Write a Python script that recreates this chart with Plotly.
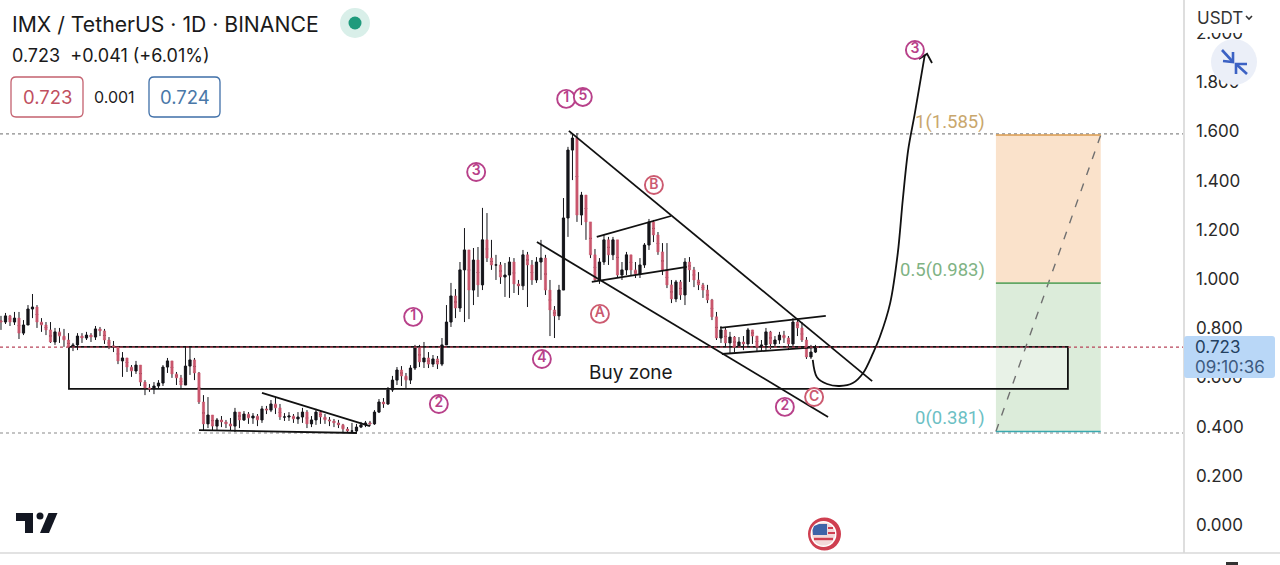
import numpy as np
import plotly.graph_objects as go

# Daglige candles lest av bildet (IMX/USDT), open = forrige close
closes = [
    .825, .850, .825, .841, .780, .813, .878, .886, .825, .813,
    .793, .744, .785, .768, .752, .724, .732, .768, .760, .772,
    .764, .797, .789, .752, .728, .724, .667, .679, .642, .626,
    .650, .581, .557, .553, .565, .577, .642, .667, .614, .598,
    .569, .646, .671, .618, .500, .411, .447, .402, .427, .419,
    .411, .402, .459, .427, .451, .435, .443, .427, .472, .467,
    .492, .476, .439, .439, .443, .431, .439, .459, .411, .427,
    .459, .439, .427, .423, .415, .407, .390, .382, .382, .398,
    .407, .415, .411, .459, .500, .492, .549, .589, .630, .606,
    .589, .638, .720, .663, .679, .654, .675, .654, .732, .825,
    .931, .882, 1.037, 1.118, .955, 1.077, .976, 1.159, 1.085, 1.057,
    1.057, 1.008, 1.016, 1.069, .980, .972, 1.098, 1.057, .996, 1.069,
    1.085, .955, .874, .850, .955, 1.248, 1.524, 1.573, 1.260, 1.341,
    1.232, 1.098, .996, 1.069, 1.159, 1.098, 1.159, 1.016, 1.037, 1.098,
    1.037, 1.020, 1.057, 1.138, 1.232, 1.179, 1.110, 1.037, .976, .919,
    .988, .935, 1.069, 1.037, .996, .976, .955, .915, .846, .760,
    .793, .740, .764, .724, .744, .736, .793, .768, .724, .732,
    .785, .736, .752, .772, .760, .736, .825, .801, .752, .683, .703, .723,
]
highs = [
    .850, .862, .854, .866, .866, .833, .894, .939, .894, .841,
    .825, .825, .801, .801, .797, .780, .740, .780, .780, .785,
    .780, .809, .805, .797, .764, .748, .724, .703, .679, .650,
    .667, .650, .589, .573, .581, .589, .650, .679, .667, .622,
    .610, .724, .724, .679, .622, .528, .520, .447, .435, .443,
    .427, .435, .476, .459, .463, .459, .455, .451, .484, .484,
    .508, .520, .492, .455, .459, .451, .459, .476, .467, .443,
    .472, .463, .451, .439, .431, .427, .411, .398, .415, .411,
    .419, .423, .423, .467, .512, .516, .561, .606, .642, .646,
    .618, .650, .732, .732, .744, .703, .691, .687, .760, .894,
    .984, .959, 1.069, 1.207, 1.118, 1.126, 1.130, 1.289, 1.268, 1.159,
    1.098, 1.069, 1.065, 1.089, 1.085, .996, 1.118, 1.110, 1.077, 1.089,
    1.159, 1.098, .996, .890, .976, 1.329, 1.537, 1.593, 1.593, 1.354,
    1.297, 1.228, 1.122, 1.085, 1.179, 1.171, 1.171, 1.118, 1.069, 1.110,
    1.085, 1.069, 1.085, 1.146, 1.244, 1.240, 1.191, 1.146, 1.146, .996,
    .996, .996, 1.085, 1.089, 1.049, 1.028, .984, .976, .919, .866,
    .809, .805, .785, .768, .764, .768, .801, .793, .768, .752,
    .801, .789, .768, .785, .789, .768, .841, .841, .825, .764, .732, .732,
]
lows = [
    .793, .817, .809, .813, .756, .772, .825, .841, .801, .785,
    .772, .740, .732, .740, .724, .715, .707, .711, .740, .752,
    .744, .752, .768, .736, .715, .703, .654, .602, .622, .602,
    .614, .565, .528, .541, .532, .557, .565, .618, .598, .569,
    .557, .577, .610, .589, .492, .386, .394, .386, .386, .398,
    .394, .382, .378, .394, .423, .411, .411, .402, .415, .451,
    .459, .451, .427, .423, .423, .415, .411, .415, .394, .398,
    .407, .411, .411, .402, .398, .394, .378, .374, .374, .374,
    .394, .398, .402, .407, .455, .476, .488, .541, .569, .565,
    .557, .573, .630, .642, .638, .638, .642, .634, .646, .732,
    .805, .841, .866, .825, .837, .894, .927, .955, 1.069, 1.037,
    .996, .980, .927, .923, .943, .935, .955, .886, .976, .984,
    .996, .935, .768, .760, .833, .955, 1.171, 1.402, 1.232, 1.219,
    1.159, 1.085, .988, .980, 1.057, 1.057, 1.077, 1.004, .996, 1.016,
    1.016, 1.004, 1.004, 1.045, 1.118, 1.150, 1.098, 1.016, .963, .902,
    .906, .915, .894, .988, .967, .955, .923, .902, .833, .752,
    .740, .724, .699, .703, .720, .711, .728, .736, .703, .707,
    .711, .715, .724, .736, .740, .711, .724, .768, .744, .675, .675, .699,
]
first_open = .83

# Tegninger (bar-nummer, pris)
trend_lines = [
    (44.0, .386, 79.1, .374),
    (58.0, .537, 82.0, .402),
    (126.2, 1.602, 193.6, .585),
    (119.1, 1.150, 183.8, .439),
    (132.4, 1.171, 148.9, 1.256),
    (131.3, .988, 152.4, 1.049),
    (159.8, .801, 183.3, .850),
    (160.2, .695, 182.0, .724),
]
curve_x = [180.4, 181.3, 183.6, 186.4, 189.3, 191.6, 193.8, 195.3, 197.6, 199.3, 200.4, 201.6, 203.1, 205.3]
curve_y = [.671, .602, .573, .565, .577, .618, .699, .764, .902, 1.106, 1.321, 1.524, 1.675, 1.911]
arrow_x = [204.0, 205.8, 206.9]
arrow_y = [1.894, 1.915, 1.878]

wave_x = [125.6, 129.3, 105.6, 91.6, 97.3, 120.2, 133.1, 145.1, 174.2, 180.7, 203.1]
wave_y = [1.732, 1.740, 1.435, .846, .492, .675, .858, 1.382, .480, .520, 1.931]
wave_text = ["1", "5", "3", "1", "2", "4", "A", "B", "2", "C", "3"]

buy_zone_x = [15.1, 237.1]
buy_zone_y = [.553, .724]
fib_x = [221.1, 244.4]
fib_levels = [.38, .983, 1.585]
fib_labels = ["0(0.381)", "0.5(0.983)", "1(1.585)"]
fib_colors = ["#6cc0c4", "#7fb384", "#c9a76d"]
fib_lines = ["#3aa9b0", "#62a765", "#d99a4e"]
grey_levels = [1.59, .374]
last_price = .723
tick_vals = [0, .2, .4, .6, .8, 1.0, 1.2, 1.4, 1.6, 1.8, 2.0]

PINK = "#c9566c"
DARK = "#15151a"
WAVE = "#b8418a"
WAVE_LETTER = "#cc5a70"


# Hjelpere for faste elementer i skjermbildet (piksler -> paper)
def xp(px):
    return px / 1184


def yp(py):
    return 1 - py / 553


def poly(points, close=True):
    path = "M " + " L ".join(f"{xp(x):.5f},{yp(y):.5f}" for x, y in points)
    return path + (" Z" if close else "")


def rounded(x0, y0, x1, y1, r):
    return (
        f"M {xp(x0 + r):.5f},{yp(y0):.5f} L {xp(x1 - r):.5f},{yp(y0):.5f} "
        f"Q {xp(x1):.5f},{yp(y0):.5f} {xp(x1):.5f},{yp(y0 + r):.5f} "
        f"L {xp(x1):.5f},{yp(y1 - r):.5f} Q {xp(x1):.5f},{yp(y1):.5f} {xp(x1 - r):.5f},{yp(y1):.5f} "
        f"L {xp(x0 + r):.5f},{yp(y1):.5f} Q {xp(x0):.5f},{yp(y1):.5f} {xp(x0):.5f},{yp(y1 - r):.5f} "
        f"L {xp(x0):.5f},{yp(y0 + r):.5f} Q {xp(x0):.5f},{yp(y0):.5f} {xp(x0 + r):.5f},{yp(y0):.5f} Z"
    )


def paper_shape(**kw):
    return dict(xref="paper", yref="paper", layer="above", **kw)


def circle(cx, cy, r, fill, line=None, width=0):
    return paper_shape(
        type="circle", x0=xp(cx - r), x1=xp(cx + r), y0=yp(cy + r), y1=yp(cy - r),
        fillcolor=fill, line=dict(color=line or fill, width=width),
    )


def label(px, py, text, size, color, anchor="left"):
    return dict(
        x=xp(px), y=yp(py), xref="paper", yref="paper", text=text,
        showarrow=False, xanchor=anchor, yanchor="middle", borderpad=0, borderwidth=0,
        font=dict(size=size, color=color, family="Inter, Roboto, sans-serif"),
    )


highs = np.array(highs)
lows = np.array(lows)
closes = np.array(closes)
opens = np.concatenate([[first_open], closes[:-1]])
bars = np.arange(len(closes))
down = closes < opens
body_top = np.maximum(opens, closes)
body_low = np.minimum(opens, closes)

fig = go.Figure()

# Veke for røde candles i mørkt, selve kroppen tegnes oppå i rosa
mid = (opens + closes) / 2
fig.add_trace(go.Candlestick(
    x=bars[down], open=mid[down], high=highs[down], low=lows[down], close=mid[down],
    increasing=dict(line=dict(color=DARK, width=1), fillcolor=DARK),
    decreasing=dict(line=dict(color=DARK, width=1), fillcolor=DARK),
    whiskerwidth=0, hoverinfo="skip",
))
fig.add_trace(go.Candlestick(
    x=bars[down], open=opens[down], high=body_top[down], low=body_low[down], close=closes[down],
    decreasing=dict(line=dict(color=PINK, width=0.6), fillcolor=PINK),
    increasing=dict(line=dict(color=PINK, width=0.6), fillcolor=PINK),
    whiskerwidth=0, hoverinfo="skip",
))
fig.add_trace(go.Candlestick(
    x=bars[~down], open=opens[~down], high=highs[~down], low=lows[~down], close=closes[~down],
    increasing=dict(line=dict(color=DARK, width=1), fillcolor=DARK),
    decreasing=dict(line=dict(color=DARK, width=1), fillcolor=DARK),
    whiskerwidth=0, hoverinfo="skip",
))

# Trendlinjer
for x0, y0, x1, y1 in trend_lines:
    fig.add_trace(go.Scatter(x=[x0, x1], y=[y0, y1], mode="lines", line=dict(color="#111111", width=1.8), hoverinfo="skip"))

# Prognosekurve med pil
fig.add_trace(go.Scatter(x=curve_x, y=curve_y, mode="lines", line=dict(color="#111111", width=1.8, shape="spline", smoothing=0.9), hoverinfo="skip"))
fig.add_trace(go.Scatter(x=arrow_x, y=arrow_y, mode="lines", line=dict(color="#111111", width=1.8), hoverinfo="skip"))

# Elliott-tall i sirkler
wave_colors = [WAVE_LETTER if t in "ABC" else WAVE for t in wave_text]
fig.add_trace(go.Scatter(
    x=wave_x, y=wave_y, text=wave_text, mode="markers+text", textposition="middle center",
    marker=dict(size=18, color="white", line=dict(color=wave_colors, width=1.9)),
    textfont=dict(size=14, color=wave_colors, family="Inter, Roboto, sans-serif", weight=600),
    hoverinfo="skip",
))

shapes = [
    # Fib-boksene
    dict(type="rect", xref="x", yref="y", layer="below", x0=fib_x[0], x1=fib_x[1], y0=fib_levels[1], y1=fib_levels[2],
         fillcolor="#fae2cb", line_width=0),
    dict(type="rect", xref="x", yref="y", layer="below", x0=fib_x[0], x1=fib_x[1], y0=fib_levels[0], y1=fib_levels[1],
         fillcolor="#dcecda", line_width=0),
    # Buy zone
    dict(type="rect", xref="x", yref="y", layer="below", x0=buy_zone_x[0], x1=buy_zone_x[1], y0=buy_zone_y[0], y1=buy_zone_y[1],
         fillcolor="rgba(255,255,255,0.35)", line=dict(color="#111111", width=1.8)),
    dict(type="line", xref="x", yref="y", layer="above", x0=fib_x[0], x1=fib_x[1], y0=fib_levels[0], y1=fib_levels[2],
         line=dict(color="#707070", width=1.4, dash="8px 9px")),
    dict(type="line", xref="paper", yref="y", layer="above", x0=0, x1=1, y0=last_price, y1=last_price,
         line=dict(color="#b8445a", width=1.2, dash="dot")),
    # Rammer for pris-akse og bunn
    paper_shape(type="line", x0=1, x1=1, y0=yp(0), y1=yp(553), line=dict(color="#dedede", width=2)),
    paper_shape(type="line", x0=0, x1=xp(1280), y0=0, y1=0, line=dict(color="#d8d8d8", width=1.5)),
    paper_shape(type="rect", x0=xp(1226), x1=xp(1238), y0=yp(562), y1=yp(566), fillcolor="#333333", line_width=0),
    # Pris-boks
    paper_shape(type="path", path=rounded(1184, 336, 1275, 378, 3), fillcolor="#b9d7f7", line_width=0),
    # USDT-felt og knapp
    paper_shape(type="rect", x0=xp(1186), x1=xp(1280), y0=yp(33), y1=yp(0), fillcolor="white", line_width=0),
    circle(1234, 62, 23, "#ebeff8"),
    paper_shape(type="path", path=poly([(1222, 50), (1233, 62)], False), line=dict(color="#3c62c4", width=2.6)),
    paper_shape(type="path", path=poly([(1223, 61), (1233, 62), (1233, 52)], False), line=dict(color="#3c62c4", width=2.6)),
    paper_shape(type="path", path=poly([(1247, 74), (1236, 64)], False), line=dict(color="#3c62c4", width=2.6)),
    paper_shape(type="path", path=poly([(1247, 64), (1236, 64), (1236, 74)], False), line=dict(color="#3c62c4", width=2.6)),
    paper_shape(type="path", path=poly([(1246, 16), (1249, 19), (1252, 16)], False), line=dict(color="#333333", width=1.6)),
    # Statuspunkt og prisbokser
    circle(355, 23, 15, "#d9efe9"),
    circle(355, 23, 6.5, "#1f9a7c"),
    paper_shape(type="path", path=rounded(11, 77, 83, 117, 5), fillcolor="white", line=dict(color="#c4616f", width=1.3)),
    paper_shape(type="path", path=rounded(149, 77, 220, 117, 5), fillcolor="white", line=dict(color="#3f6fa8", width=1.3)),
    # TradingView-logo
    paper_shape(type="path", path=poly([(16, 513), (33, 513), (33, 533), (25, 533), (25, 521), (16, 521)]), fillcolor="#131722", line_width=0),
    circle(40, 516, 3.5, "#131722"),
    paper_shape(type="path", path=poly([(48.5, 513), (57.5, 513), (49, 533), (40, 533)]), fillcolor="#131722", line_width=0),
    # Flagg-ikon
    circle(824.5, 534, 16.5, "#cf3f50"),
    circle(823.5, 534, 13, "white"),
    circle(823.5, 534, 11.5, "#f3d9d9"),
    paper_shape(type="path", path=poly([(814, 526), (819, 524), (827, 524), (827, 535), (813, 535), (812.5, 530)]), fillcolor="#3f64a8", line_width=0),
    paper_shape(type="path", path=poly([(828, 528), (833, 528)], False), line=dict(color="#cf3f50", width=2)),
    paper_shape(type="path", path=poly([(828, 533), (835, 533)], False), line=dict(color="#cf3f50", width=2)),
    paper_shape(type="path", path=poly([(814, 539), (833, 539)], False), line=dict(color="#cf3f50", width=2.4)),
]
for level in grey_levels:
    shapes.append(dict(type="line", xref="paper", yref="y", layer="below", x0=0, x1=1, y0=level, y1=level,
                       line=dict(color="#8a8a8a", width=1.2, dash="dot")))
for level, color in zip(fib_levels, fib_lines):
    shapes.append(dict(type="line", xref="x", yref="y", layer="above", x0=fib_x[0], x1=fib_x[1], y0=level, y1=level,
                       line=dict(color=color, width=1.6)))

annotations = [
    label(12, 24, "IMX / TetherUS · 1D · BINANCE", 21.2, "#1a1a1a"),
    label(12, 55, "0.723&nbsp;&nbsp;+0.041 (+6.01%)", 18, "#1a1a1a"),
    label(47, 97, "0.723", 18.5, "#c0505f", "center"),
    label(115, 97, "0.001", 16, "#222222", "center"),
    label(185, 97, "0.724", 18.5, "#4a78a8", "center"),
    label(1197, 18, "USDT", 17, "#333333"),
    label(1195, 347, "0.723", 17, "#24405f"),
    label(1195, 367, "09:10:36", 17, "#3d5a80"),
    dict(x=140, y=.618, text="Buy zone", showarrow=False, font=dict(size=19, color="#1a1a1a", family="Inter, Roboto, sans-serif")),
]
for level_y, text, color in zip([.435, 1.037, 1.638], fib_labels, fib_colors):
    annotations.append(dict(x=219.2, y=level_y, text=text, showarrow=False, xanchor="right",
                            font=dict(size=18.5, color=color, family="Roboto, sans-serif")))

fig.update_layout(
    width=1280, height=565,
    margin=dict(l=0, r=96, t=0, b=12),
    paper_bgcolor="white", plot_bgcolor="white",
    showlegend=False,
    shapes=shapes,
    annotations=annotations,
    xaxis=dict(range=[-0.22, 262.9], visible=False, rangeslider=dict(visible=False), fixedrange=True),
    yaxis=dict(
        range=[-0.1138, 2.134], side="right", showgrid=False, zeroline=False, showline=False,
        tickmode="array", tickvals=tick_vals, ticktext=[f"{v:.3f}" for v in tick_vals],
        ticks="", ticklabelstandoff=11, fixedrange=True,
        tickfont=dict(size=17, color="#2a2a2a", family="Inter, Roboto, sans-serif"),
    ),
)

fig.write_html("out.html", config=dict(displayModeBar=False), post_script="document.body.style.margin='0';")
